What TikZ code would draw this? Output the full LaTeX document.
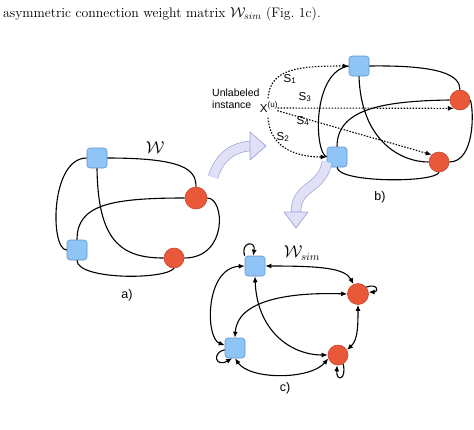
\documentclass[tikz,border=0pt]{standalone}
\usepackage{fontspec}
\setsansfont{Liberation Sans}
\usetikzlibrary{arrows.meta}
\definecolor{sqfill}{RGB}{142,196,246}
\definecolor{sqdraw}{RGB}{96,150,205}
\definecolor{rdfill}{RGB}{234,88,58}
\definecolor{rddraw}{RGB}{200,72,45}
\definecolor{bafill}{RGB}{224,224,247}
\definecolor{badraw}{RGB}{160,162,215}
\begin{document}
\begin{tikzpicture}[x=1pt,y=-1pt,
 sq/.style={rectangle,rounded corners=3pt,minimum size=20pt,inner sep=0pt,fill=sqfill,draw=sqdraw,line width=0.6pt},
 rd/.style={circle,minimum size=20pt,inner sep=0pt,fill=rdfill,draw=rddraw,line width=0.6pt},
 ln/.style={line width=1.1pt},
 bi/.style={ln,{Latex[length=6pt,width=5pt]}-{Latex[length=6pt,width=5pt]}},
 one/.style={ln,-{Latex[length=6pt,width=5pt]}},
 dotarrow/.style={line width=1.1pt,dash pattern=on 1.5pt off 1.5pt,-{Latex[length=6pt,width=5pt]}},
 lab/.style={font=\sffamily\fontsize{12.5}{14}\selectfont,inner sep=0pt},
 slab/.style={font=\sffamily\fontsize{11.5}{12.5}\selectfont,inner sep=0pt},
 band/.style={draw=badraw,line width=0.7pt,double=bafill,double distance=9pt},
 bahead/.style={fill=bafill,draw=badraw,line width=0.7pt,line join=round},
 ]
\useasboundingbox (0,0) rectangle (474,429);

% caption text
\node[anchor=base west,inner sep=0pt,font=\fontsize{13.8}{16}\selectfont] (cap) at (3,17)
 {asymmetric connection weight matrix $\mathcal{W}_{sim}$ (Fig.~1c).};

% ---------------- panel a ----------------
\node[sq] (sa1) at (97,158) {};
\node[sq] (sa2) at (77,250) {};
\node[rd,minimum size=22pt] (ra1) at (196,198) {};
\node[rd] (ra2) at (174,258) {};
\draw[ln] (sa1.east) .. controls (185,158) and (196,170) .. (ra1.north);
\draw[ln] (sa1.west) .. controls (50,158) and (50,250) .. (sa2.west);
\draw[ln] (sa1.south) .. controls (98,240) and (120,258) .. (ra2.west);
\draw[ln] (sa2.north) .. controls (77,205) and (110,198) .. (ra1.west);
\draw[ln] (sa2.south) .. controls (77,280) and (165,280) .. (ra2.south);
\draw[ln] (ra1.east) .. controls (225,198) and (228,258) .. (ra2.east);
\node[font=\fontsize{16}{18}\selectfont,inner sep=0pt] (wa) at (155,148) {$\mathcal{W}$};
\node[lab] (la) at (127,295) {a)};

% ---------------- panel b ----------------
\node[sq] (sb1) at (359,66) {};
\node[sq] (sb2) at (337,157) {};
\node[rd] (rb1) at (460,100) {};
\node[rd] (rb2) at (439,162) {};
\draw[ln] (sb1.east) .. controls (440,65) and (460,75) .. (rb1.north);
\draw[ln] (sb2.west) .. controls (314,152) and (312,72) .. (sb1.west);
\draw[ln] (sb1.south) .. controls (361,140) and (400,162) .. (rb2.west);
\draw[ln] (sb2.north) .. controls (337,110) and (380,101) .. (rb1.west);
\draw[ln] (sb2.south) .. controls (338,183) and (435,183) .. (rb2.south);
\draw[ln] (rb1.east) .. controls (474,110) and (475,162) .. (rb2.east);
\node[circle,fill=white,minimum size=19pt,inner sep=0pt] (xu) at (268,108) {};
\node[slab,font=\sffamily\fontsize{11.5}{12}\selectfont] (xut) at (269,107) {X\textsuperscript{(u)}};
\node[slab,font=\sffamily\fontsize{10.5}{12}\selectfont,anchor=north west,align=left] (unl) at (212,89) {Unlabeled\\instance};
\draw[dotarrow] (xu.north) .. controls (270,68) and (300,66) .. (sb1.west);
\draw[dotarrow] (xu.south) .. controls (270,150) and (300,157) .. (sb2.west);
\draw[dotarrow] (xu) -- (rb1.234);
\draw[dotarrow] (xu) -- (rb2.135);
\node[slab] (s1) at (290,79) {S\textsubscript{1}};
\node[slab] (s3) at (305,97) {S\textsubscript{3}};
\node[slab] (s4) at (303,121) {S\textsubscript{4}};
\node[slab] (s2) at (283,137) {S\textsubscript{2}};
\node[lab] (lb) at (380,197) {b)};

% ---------------- panel c ----------------
\node[sq] (sc1) at (255,266) {};
\node[sq] (sc2) at (235,348) {};
\node[rd,minimum size=21pt] (rc1) at (358,294) {};
\node[rd] (rc2) at (338,355) {};
\draw[bi] (sc1.east) .. controls (320,266) and (345,268) .. (rc1.115);
\draw[bi] (sc1.west) .. controls (205,268) and (205,338) .. (sc2.165);
\draw[bi] (sc1.south) .. controls (257,330) and (290,355) .. (rc2.west);
\draw[bi] (sc2.north) .. controls (237,300) and (290,292) .. (rc1.west);
\draw[bi] (sc2.south) .. controls (250,380) and (310,380) .. (rc2.200);
\draw[bi] (rc1.south) .. controls (358,325) and (358,340) .. (rc2.30);
\draw[one] (sc1.north west) .. controls (240,242) and (256,240) .. (sc1.100);
\draw[one] (sc2.190) .. controls (212,352) and (215,368) .. (sc2.255);
\draw[one] (rc1.40) .. controls (378,283) and (379,292) .. (rc1.10);
\draw[one] (rc2.300) .. controls (347,380) and (336,382) .. (rc2.265);
\node[font=\fontsize{16}{18}\selectfont,inner sep=0pt] (wc) at (302,253) {$\mathcal{W}_{sim}$};
\node[lab] (lc) at (285,388) {c)};

% ---------------- big arrows ----------------
\coordinate (t1) at (213,177);
\coordinate (h1) at (250,146);
\draw[band] (t1) .. controls (220,155) and (235,147) .. (h1);
\draw[bahead] (250,132) -- (266,146) -- (250,160) -- cycle;
\coordinate (t2) at (327,162);
\coordinate (h2) at (296,212);
\draw[band] (t2) .. controls (322,190) and (296,185) .. (h2);
\draw[bahead] (284,212) -- (308,212) -- (296,228) -- cycle;
\end{tikzpicture}
\end{document}
